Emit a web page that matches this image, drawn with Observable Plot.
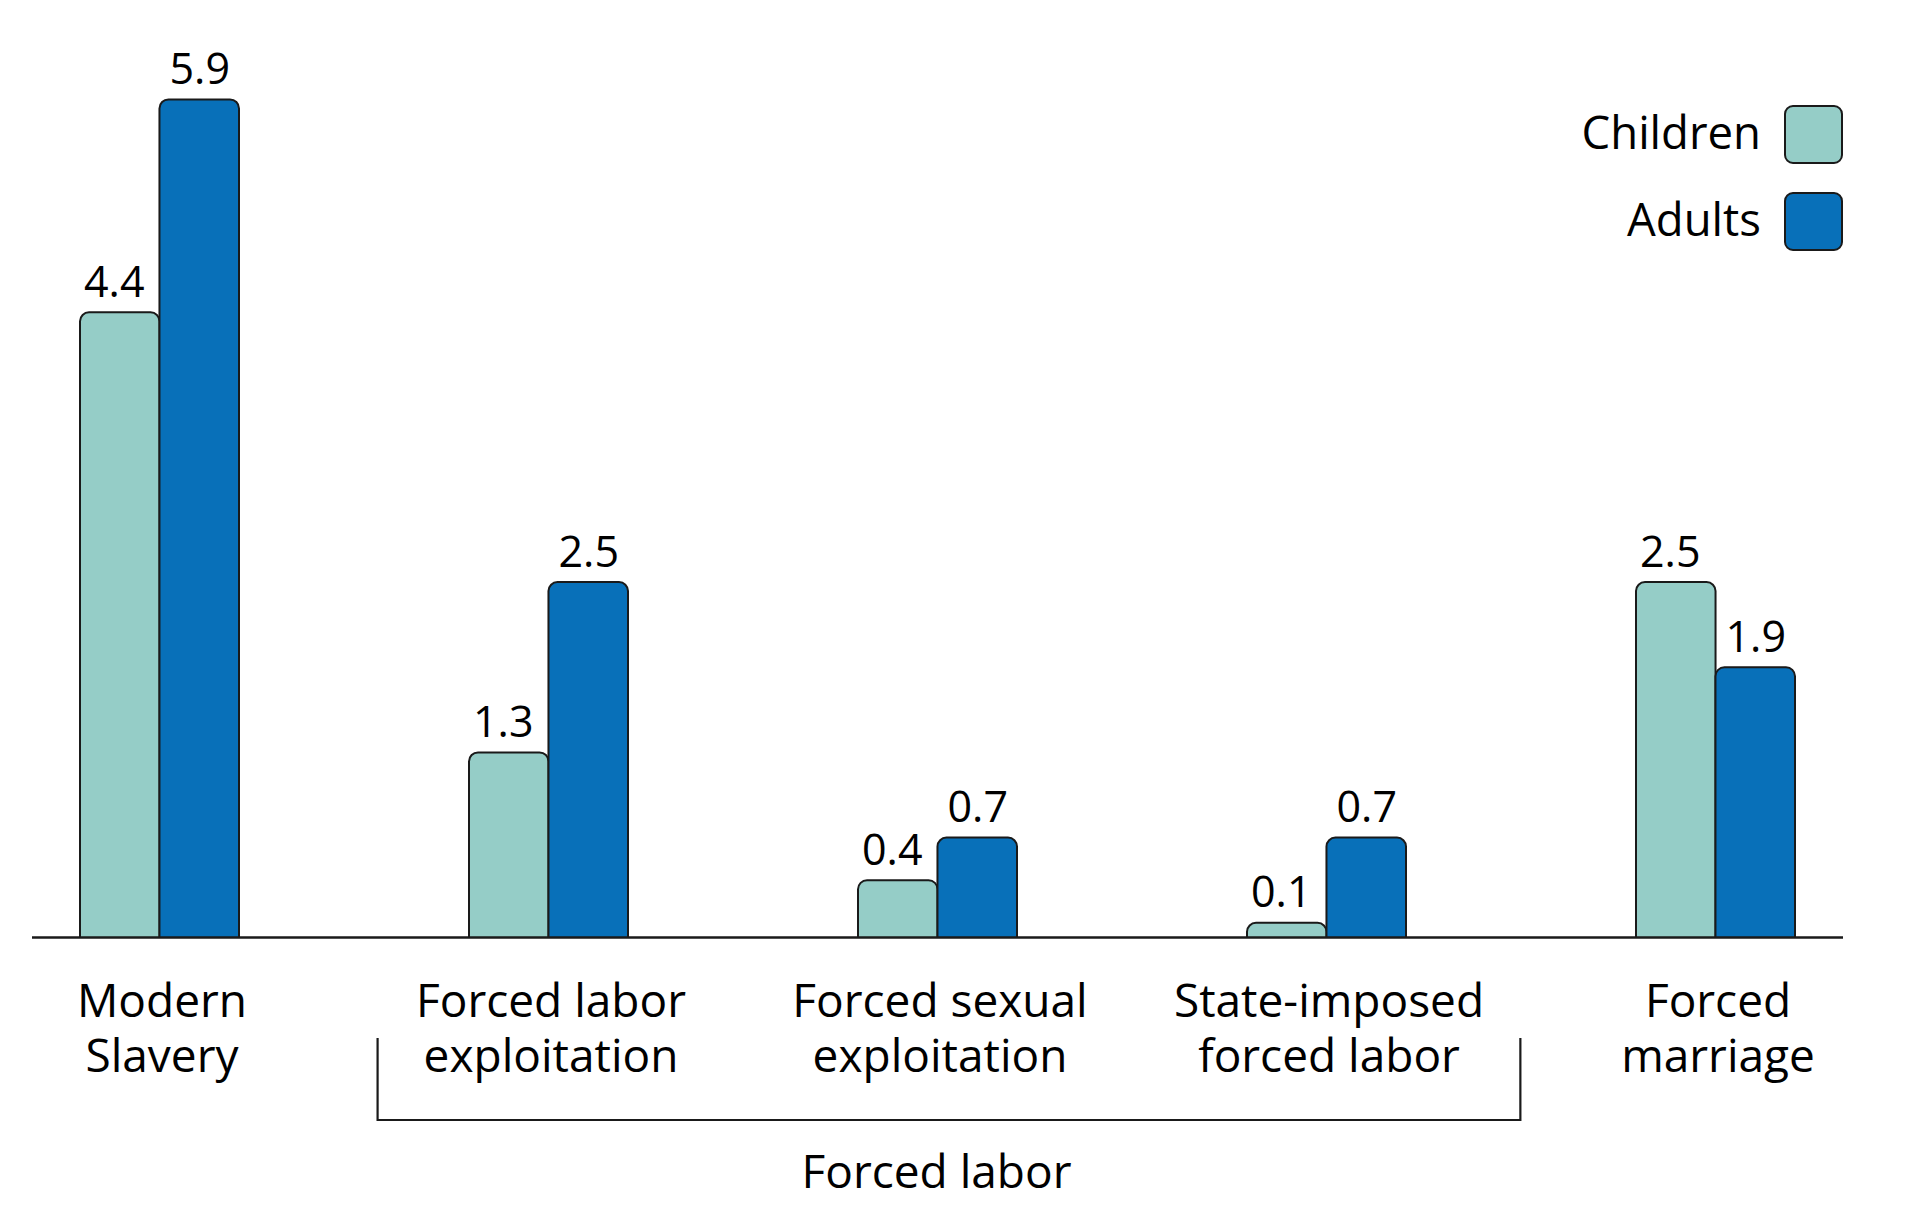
<!DOCTYPE html>
<html>
<head>
<meta charset="utf-8">
<script src="https://cdn.jsdelivr.net/npm/d3@7"></script>
<script src="https://cdn.jsdelivr.net/npm/@observablehq/plot@0.6"></script>
<style>
  body { margin: 0; background: #fff; font-family: "Open Sans", sans-serif; }
  #chart { width: 1920px; height: 1208px; }
</style>
</head>
<body>
<div id="chart"></div>
<script>
// ---- data ----
const categories = ["Modern\nSlavery", "Forced labor\nexploitation", "Forced sexual\nexploitation", "State-imposed\nforced labor", "Forced\nmarriage"];
const groups = ["Children", "Adults"];
const children = [4.4, 1.3, 0.4, 0.1, 2.5];
const adults = [5.9, 2.5, 0.7, 0.7, 1.9];
const colors = ["#95cdc7", "#0870b9"];
const bracketLabel = "Forced labor";
const bracketFrom = 1, bracketTo = 3, bracketLabelAt = 2;

const data = categories.flatMap((c, i) => [
  {category: c, group: groups[0], value: children[i]},
  {category: c, group: groups[1], value: adults[i]}
]);

const W = 1920, H = 1208;
const mL = 32, mR = 77, mT = 0, mB = 271;
const xOpts = {type: "band", domain: categories, paddingInner: 0.592, paddingOuter: 0.1208};
const xs = Plot.scale({x: {...xOpts, range: [mL, W - mR]}});
const bw = xs.bandwidth;
const half = bw / 2;
const fmt = d3.format(".1f");
const barStyle = {stroke: "#1a1a1a", strokeWidth: 2, rx: 9, insetBottom: -20, clip: true};

const plot = Plot.plot({
  width: W, height: H,
  marginLeft: mL, marginRight: mR, marginTop: mT, marginBottom: mB,
  style: {fontFamily: "Open Sans", fontSize: "44px", color: "#000", background: "#fff", overflow: "visible"},
  x: {...xOpts, label: null},
  y: {domain: [0, 6.6], axis: null},
  color: {domain: groups, range: colors},
  marks: [
    Plot.barY(data.filter(d => d.group === groups[0]), {x: "category", y: "value", fill: "group", insetRight: half, ...barStyle}),
    Plot.barY(data.filter(d => d.group === groups[1]), {x: "category", y: "value", fill: "group", insetLeft: half, ...barStyle}),
    Plot.ruleY([0], {stroke: "#1a1a1a", strokeWidth: 2.5}),
    Plot.text(data.filter(d => d.group === groups[0]), {x: "category", y: "value", text: d => fmt(d.value), dx: -bw / 4 - 6, lineAnchor: "bottom", dy: -16, fontSize: 43, fill: "#000"}),
    Plot.text(data.filter(d => d.group === groups[1]), {x: "category", y: "value", text: d => fmt(d.value), dx: bw / 4, lineAnchor: "bottom", dy: -16, fontSize: 43, fill: "#000"}),
    Plot.axisX({tickSize: 0, tickPadding: 40, dx: 2, fontSize: 46, lineHeight: 1.2, label: null, fill: "#000"})
  ]
});

document.getElementById("chart").appendChild(plot);

// ---- bracket and legend (positioned from the plot's scales) ----
const svg = d3.select(plot);
const x = plot.scale("x");
const y = plot.scale("y");
const color = plot.scale("color");
const base = y.apply(0);
const xl = x.apply(categories[bracketFrom]) - 0.235 * x.step;
const xr = x.apply(categories[bracketTo]) + x.bandwidth + 0.294 * x.step;
const yTop = base + 101, yBot = base + 183;
svg.append("path")
  .attr("d", `M${xl},${yTop}V${yBot}H${xr}V${yTop}`)
  .attr("fill", "none").attr("stroke", "#1a1a1a").attr("stroke-width", 2.2);
svg.append("text")
  .attr("x", x.apply(categories[bracketLabelAt]) + x.bandwidth / 2 - 1)
  .attr("y", base + 251)
  .attr("text-anchor", "middle")
  .attr("font-size", 46).attr("font-family", "Open Sans").attr("fill", "#000")
  .text(bracketLabel);

const lg = svg.append("g");
groups.forEach((g, i) => {
  const top = 106 + i * 87;
  lg.append("rect").attr("x", 1785).attr("y", top).attr("width", 57).attr("height", 57)
    .attr("rx", 8).attr("fill", color.apply(g)).attr("stroke", "#1a1a1a").attr("stroke-width", 2);
  lg.append("text").attr("x", 1761).attr("y", top + 43).attr("text-anchor", "end")
    .attr("font-size", 45.5).attr("font-family", "Open Sans").attr("fill", "#000").text(g);
});
</script>
</body>
</html>
